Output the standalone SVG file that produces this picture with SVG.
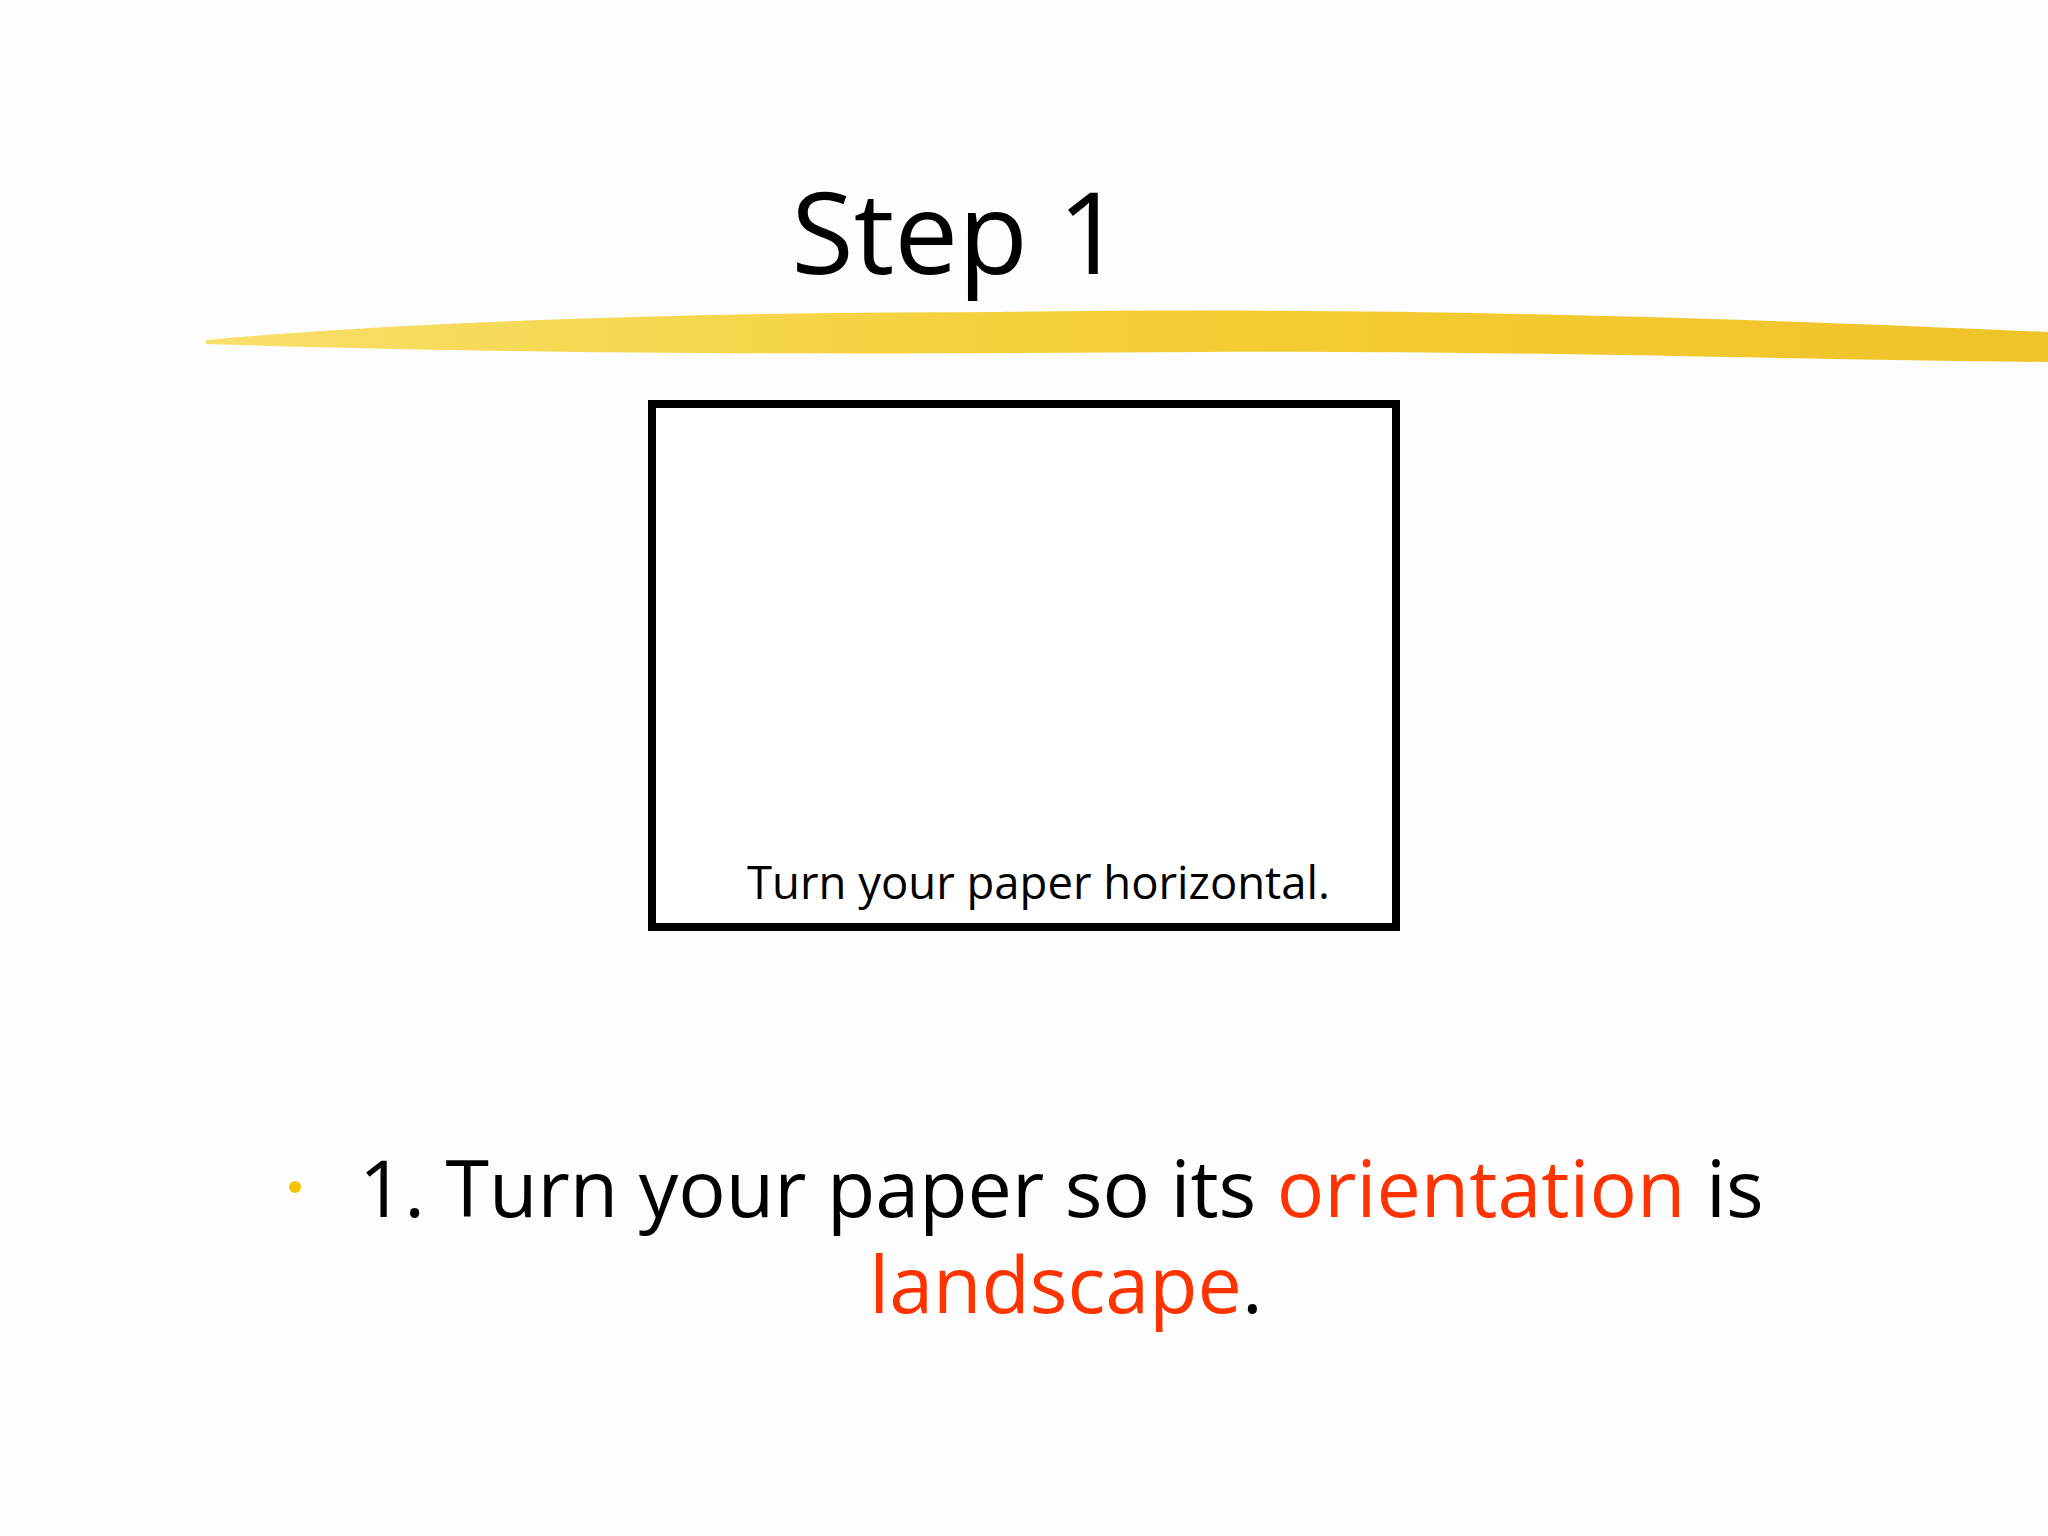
<svg xmlns="http://www.w3.org/2000/svg" width="2048" height="1536" viewBox="0 0 2048 1536">
<style>
text{font-family:"Open Sans","Liberation Sans",sans-serif;fill:#000}
.red{fill:#ff3300}
</style>
<defs>
<linearGradient id="y" x1="0" x2="1" y1="0" y2="0">
<stop offset="0" stop-color="#f7dc5a"/>
<stop offset="0.5" stop-color="#f3c91e"/>
<stop offset="1" stop-color="#eebd12"/>
</linearGradient>
</defs>
<rect width="2048" height="1536" fill="#fdfdfd"/>
<g id="title">
<text x="957" y="274" font-size="114" text-anchor="middle">Step 1</text>
</g>
<g id="brush">
<path d="M206,340 C400,322 700,312 1000,312 C1300,308 1600,312 2048,332 L2048,362 C1800,360 1500,350 1200,352 C900,354 600,356 206,344 Z" fill="url(#y)" opacity="0.9"/>
</g>
<g id="paper">
<rect x="652" y="404" width="744" height="523" fill="#fff" stroke="#000" stroke-width="8"/>
<text x="747" y="899" font-size="46" textLength="583" lengthAdjust="spacingAndGlyphs">Turn your paper horizontal.</text>
</g>
<g id="bullet">
<circle cx="295" cy="1187" r="6" fill="#f5c400"/>
<text x="359" y="1217" font-size="79">1. Turn your paper so its <tspan class="red">orientation</tspan> is</text>
<text x="1066" y="1313" font-size="79" text-anchor="middle"><tspan class="red">landscape</tspan>.</text>
</g>
</svg>
